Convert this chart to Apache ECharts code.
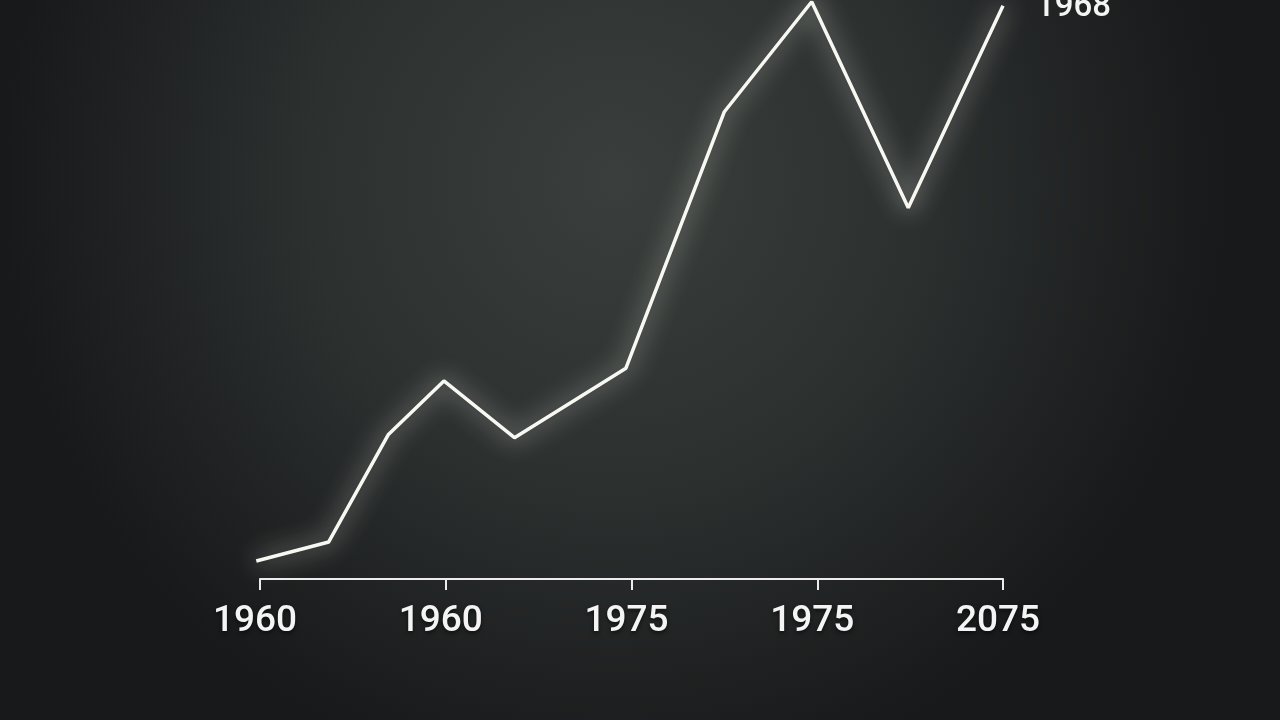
<!DOCTYPE html>
<html>
<head>
<meta charset="utf-8">
<script src="https://cdn.jsdelivr.net/npm/echarts@6/dist/echarts.min.js"></script>
<style>
html,body{margin:0;padding:0;background:#1c1d1d;}
#main{width:1280px;height:720px;}
</style>
</head>
<body>
<div id="main"></div>
<script>
// Tick labels shown under the axis (as printed in the reference)
const tickLabels = ['1960', '1960', '1975', '1975', '2075'];
// Point positions along the axis, in tick units (0 = first tick, 4 = last tick)
const xPositions = [-0.02, 0.37, 0.69, 0.99, 1.37, 1.97, 2.50, 2.97, 3.49, 4.0];
// Line values (no y axis shown; arbitrary 0–100 scale)
const values = [3.1, 6.4, 24.9, 34.2, 24.4, 36.4, 80.7, 99.7, 64.1, 99.0];
// Label at the end of the line
const endText = '1968';

// layout of the visible axis grid
const W = 1280, H = 720, GL = 260, GR = 277, GT = 0, GB = 141;
const X_MIN = 0, X_MAX = 4, Y_MIN = 0, Y_MAX = 100;
// a full-canvas grid with the same scale, so the line's glow is not cut off
const xPx = (W - GL - GR) / (X_MAX - X_MIN);
const yPx = (H - GT - GB) / (Y_MAX - Y_MIN);
const fullXMin = X_MIN - GL / xPx, fullXMax = X_MAX + GR / xPx;
const fullYMin = Y_MIN - GB / yPx, fullYMax = Y_MAX + GT / yPx;

const chart = echarts.init(document.getElementById('main'));
chart.setOption({
  backgroundColor: {
    type: 'radial', x: 0.48, y: 0.25, r: 0.85,
    colorStops: [
      {offset: 0, color: '#3a3f3d'},
      {offset: 0.5, color: '#2c302f'},
      {offset: 1, color: '#18191a'}
    ]
  },
  animation: false,
  grid: [
    {left: GL, right: GR, top: GT, bottom: GB, containLabel: false},
    {left: 0, right: 0, top: 0, bottom: 0, containLabel: false}
  ],
  xAxis: [{
    gridIndex: 0, type: 'value', min: X_MIN, max: X_MAX, interval: 1,
    axisLine: {show: true, lineStyle: {color: '#ececec', width: 2}},
    axisTick: {show: true, length: 11, lineStyle: {color: '#ececec', width: 2}},
    splitLine: {show: false},
    axisLabel: {
      color: '#f4f4f4', fontFamily: 'Roboto', fontWeight: 500, fontSize: 37,
      margin: 24, padding: [0, 10, 0, 0],
      formatter: v => tickLabels[Math.round(v)] ?? '',
      textShadowColor: 'rgba(0,0,0,0.6)', textShadowBlur: 4, textShadowOffsetY: 2
    }
  }, {
    gridIndex: 1, type: 'value', min: fullXMin, max: fullXMax, show: false,
    splitLine: {show: false}
  }],
  yAxis: [{
    gridIndex: 0, type: 'value', min: Y_MIN, max: Y_MAX, show: false, splitLine: {show: false}
  }, {
    gridIndex: 1, type: 'value', min: fullYMin, max: fullYMax, show: false, splitLine: {show: false}
  }],
  series: [{
    type: 'line',
    xAxisIndex: 1, yAxisIndex: 1,
    data: xPositions.map((x, i) => [x, values[i]]),
    showSymbol: false,
    clip: false,
    lineStyle: {
      color: '#f8f8f3', width: 3.5,
      shadowColor: 'rgba(255,255,245,0.9)', shadowBlur: 24
    },
    endLabel: {
      show: true, formatter: endText, distance: 33,
      color: '#f4f4f4', fontFamily: 'Roboto', fontWeight: 500, fontSize: 33,
      offset: [0, 2]
    }
  }]
});
</script>
</body>
</html>
